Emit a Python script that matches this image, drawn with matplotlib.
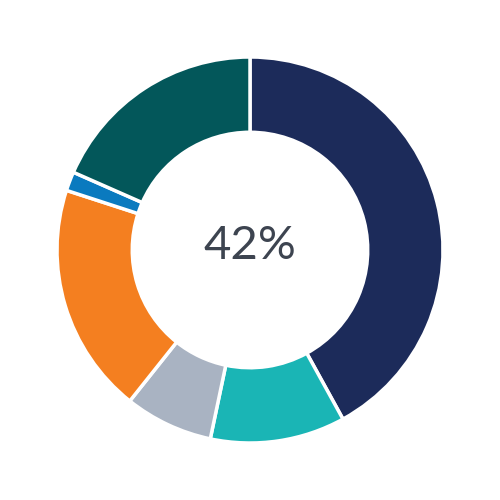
import matplotlib
matplotlib.use("Agg")
import matplotlib.pyplot as plt

# segment shares, clockwise from 12 o'clock
labels = ["Navy", "Teal", "Gray", "Orange", "Blue", "Green"]
values = [42.0, 11.3, 7.4, 19.3, 1.6, 18.4]
colors = ["#1c2b5a", "#1ab5b5", "#a9b3c2", "#f47f20", "#0a7abf", "#03575a"]
center_label = "42%"

fig = plt.figure(figsize=(5, 5), dpi=100)
ax = fig.add_axes([0, 0, 1, 1])

ax.pie(values, colors=colors, startangle=90, counterclock=False,
       radius=1.0,
       wedgeprops=dict(width=0.39, edgecolor="white", linewidth=2.5))

ax.text(0, 0.02, center_label, ha="center", va="center",
        fontsize=34, color="#3d4450", family="Lato", fontweight="normal")

# outer radius ~193 px on a 500 px canvas
lim = 250 / 193
ax.set_xlim(-lim, lim)
ax.set_ylim(-lim, lim)
ax.set_aspect("equal")
ax.axis("off")

fig.savefig("out.png", dpi=100, facecolor="white")
